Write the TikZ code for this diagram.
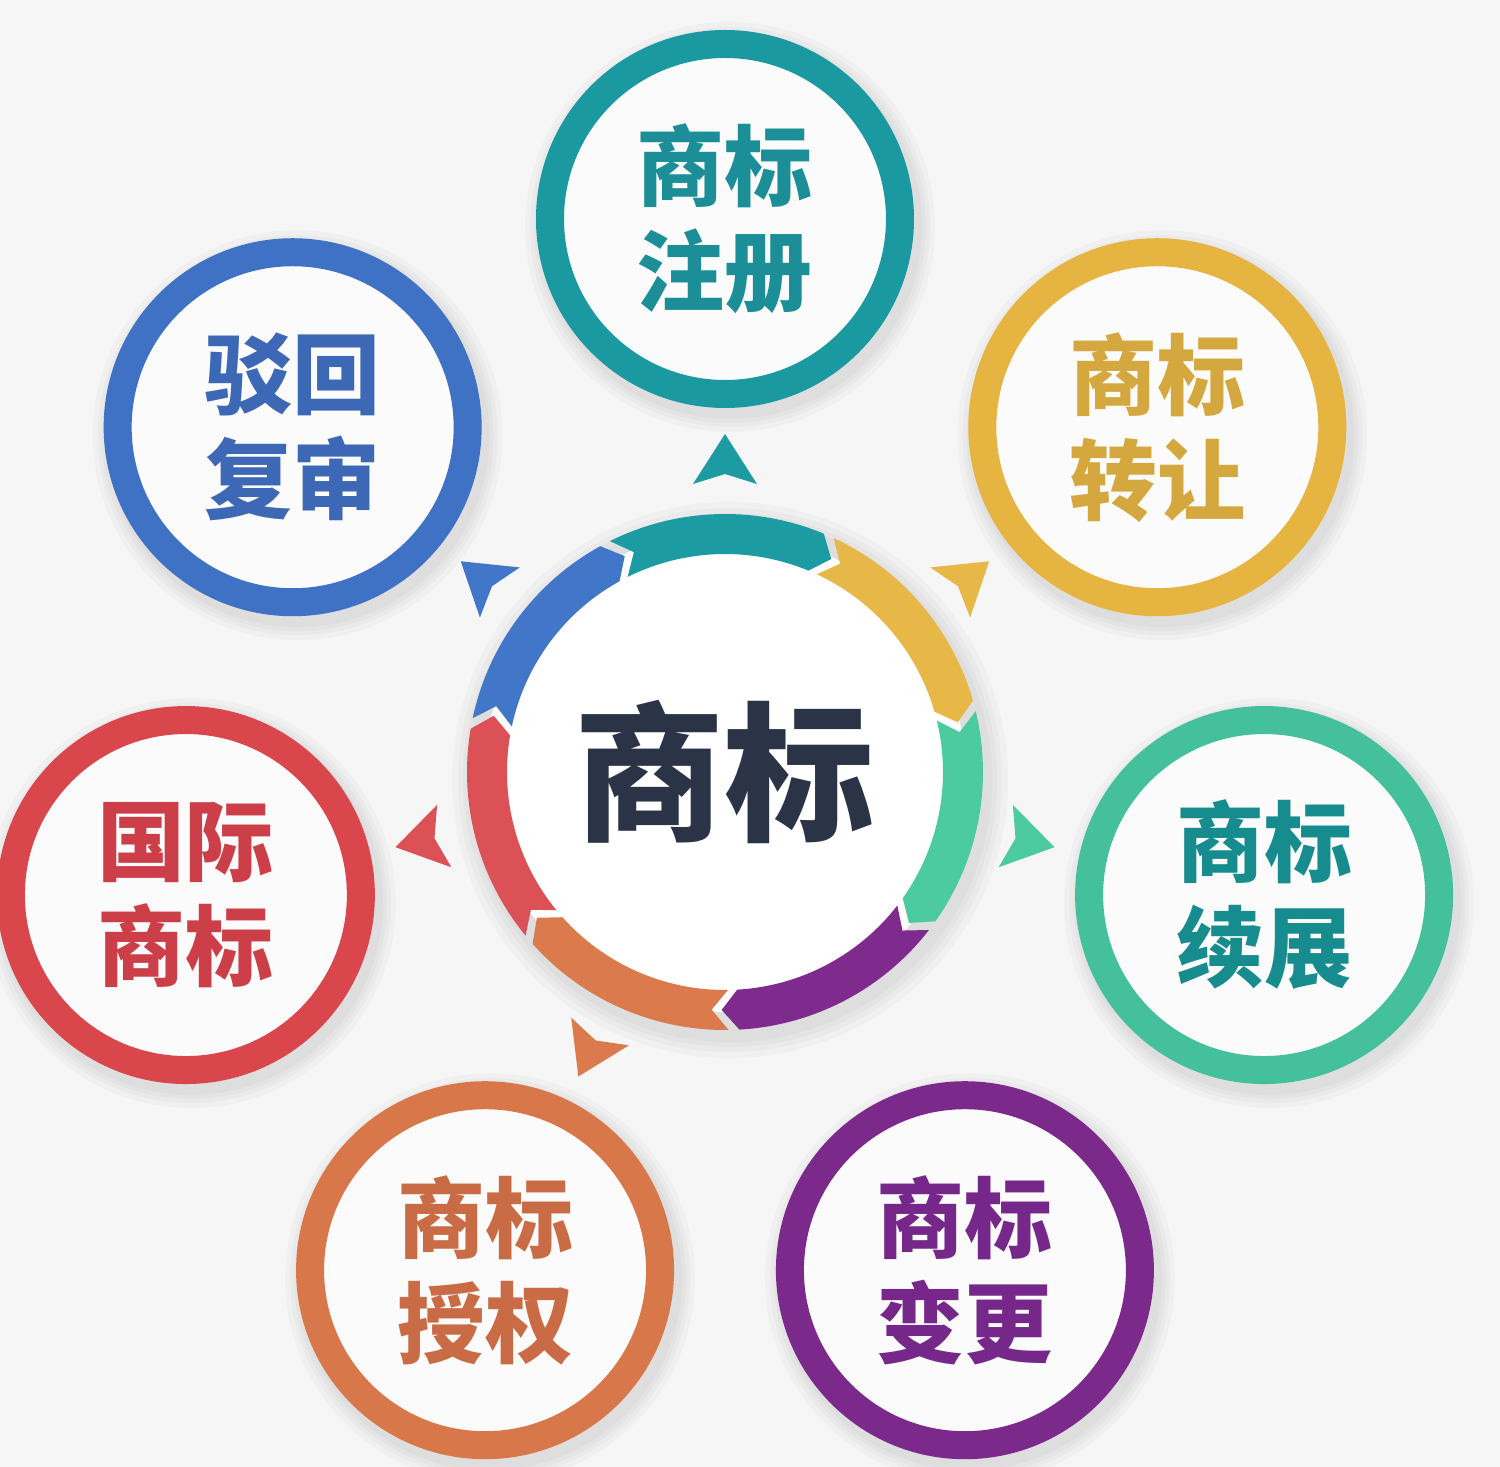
\documentclass[tikz,border=0pt]{standalone}
\usepackage{fontspec}
\usetikzlibrary{calc}
\newfontfamily\cjk{Noto Sans CJK SC}
\definecolor{bgc}{HTML}{F6F6F7}
\definecolor{innerc}{HTML}{FBFBFB}
% circle rings / text
\definecolor{cteal}{HTML}{1A99A0}\definecolor{tteal}{HTML}{1B8E97}
\definecolor{cyel}{HTML}{E6B440}\definecolor{tyel}{HTML}{D4A83F}
\definecolor{cgreen}{HTML}{45C09C}\definecolor{tgreen}{HTML}{178C8E}
\definecolor{cpur}{HTML}{7B2A8C}\definecolor{tpur}{HTML}{76288A}
\definecolor{corg}{HTML}{D8774A}\definecolor{torg}{HTML}{C96C45}
\definecolor{cred}{HTML}{D9474D}\definecolor{tred}{HTML}{CC3F48}
\definecolor{cblue}{HTML}{3F72C4}\definecolor{tblue}{HTML}{3C68B5}
% ring segments
\definecolor{steal}{HTML}{1C9CA2}\definecolor{syel}{HTML}{E7B847}
\definecolor{sgreen}{HTML}{4CCBA0}\definecolor{spur}{HTML}{7E2B8D}
\definecolor{sorg}{HTML}{DB7A4C}\definecolor{sred}{HTML}{DC5156}
\definecolor{sblue}{HTML}{4276C8}
\definecolor{ctext}{HTML}{2B3447}
\tikzset{
  ocirc/.style={circle, line width=28pt, minimum size=350pt, inner sep=0pt, outer sep=0pt,
    fill=innerc, align=center, font=\cjk\bfseries\fontsize{88pt}{105pt}\selectfont},
  ctitle/.style={inner sep=0pt, text=ctext, font=\cjk\bfseries\fontsize{150pt}{150pt}\selectfont}
}
\begin{document}
\begin{tikzpicture}[x=1pt,y=1pt]
\useasboundingbox (-725,-695) rectangle (775,772);
\fill[bgc] (-725,-695) rectangle (775,772);
% shadows
\foreach \a in {90,38.571,-12.857,-64.286,-115.714,-167.143,141.429}{
  \foreach \r in {192,196,200,205}{
    \fill[black,opacity=0.025] ($(\a:553pt)+(5,-8)$) circle[radius=\r pt];
  }
}
\foreach \r in {262,267,272,278}{
  \fill[black,opacity=0.022] (5,-8) circle[radius=\r pt];
}
\fill[white] (0,0) circle[radius=240pt];
% ring segments
\foreach \a/\c in {90/steal,38.571/syel,-12.857/sgreen,-64.286/spur,-115.714/sorg,-167.143/sred,141.429/sblue}{
  \pgfmathsetmacro\segT{\a+26.514}
  \pgfmathsetmacro\segN{\a+22.514}
  \pgfmathsetmacro\segH{\a-22.514}
  \pgfmathsetmacro\segP{\a-26.514}
  \fill[\c] (\segT:258pt) arc[start angle=\segT, end angle=\segH, radius=258pt]
     -- (\segP:238pt) -- (\segH:218pt)
     arc[start angle=\segH, end angle=\segT, radius=218pt] -- (\segN:238pt) -- cycle;
}
% small arrowheads
\foreach \a/\c in {90/steal,38.571/syel,-12.857/sgreen,-115.714/sorg,-167.143/sred,141.429/sblue}{
  \fill[\c, rotate=\a] (338,0) -- (288,32) -- (298,0) -- (288,-32) -- cycle;
}
% centre label
\node[ctitle] (center) at (0,0) {商标};
% outer circles
\node[ocirc, draw=cteal, text=tteal] (reg) at (90:553pt) {商标\\注册};
\node[ocirc, draw=cyel, text=tyel] (transfer) at (38.571:553pt) {商标\\转让};
\node[ocirc, draw=cgreen, text=tgreen] (renew) at (-12.857:553pt) {商标\\续展};
\node[ocirc, draw=cpur, text=tpur] (change) at (-64.286:553pt) {商标\\变更};
\node[ocirc, draw=corg, text=torg] (license) at (-115.714:553pt) {商标\\授权};
\node[ocirc, draw=cred, text=tred] (intl) at (-167.143:553pt) {国际\\商标};
\node[ocirc, draw=cblue, text=tblue] (review) at (141.429:553pt) {驳回\\复审};
\end{tikzpicture}
\end{document}
